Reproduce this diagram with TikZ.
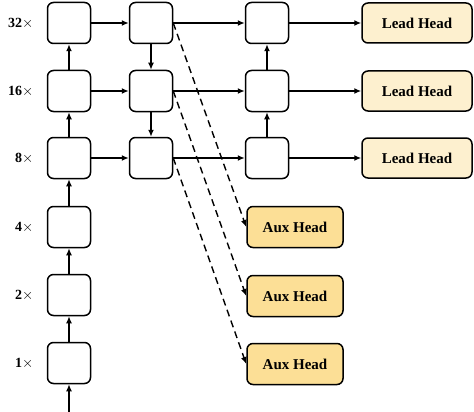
\documentclass[tikz,border=0pt]{standalone}
\usepackage{fontspec}
\setmainfont{Liberation Serif}
\usetikzlibrary{arrows.meta}

\definecolor{leadfill}{HTML}{FDF0CF}
\definecolor{auxfill}{HTML}{FCDF96}

\begin{document}
\begin{tikzpicture}
  [x=1pt,y=-1pt,line width=1.5pt,
   every node/.style={font=\fontsize{15}{17}\selectfont\bfseries},
   blk/.style={draw,rounded corners=6pt,minimum width=43pt,minimum height=41pt},
   lead/.style={blk,fill=leadfill,minimum width=110pt,minimum height=40pt},
   aux/.style={blk,fill=auxfill,minimum width=96pt},
   scl/.style={anchor=east,inner sep=0pt,font=\fontsize{14}{16}\selectfont\bfseries},
   to/.style={-{Latex[length=7pt,width=6pt]}},
   skip/.style={to,dash pattern=on 7pt off 4.5pt,line width=1.4pt}]
  \useasboundingbox (0,0) rectangle (474,412);
  % scale labels
  \node[scl] (t32) at (34,23) {32$\times$};
  \node[scl] (t16) at (34,91) {16$\times$};
  \node[scl] (t8) at (34,158) {8$\times$};
  \node[scl] (t4) at (34,227) {4$\times$};
  \node[scl] (t2) at (34,295) {2$\times$};
  \node[scl] (t1) at (34,363) {1$\times$};
  % backbone
  \node[blk] (a32) at (69,23) {};
  \node[blk] (a16) at (69,91) {};
  \node[blk] (a8) at (69,158) {};
  \node[blk] (a4) at (69,227) {};
  \node[blk] (a2) at (69,295) {};
  \node[blk] (a1) at (69,363) {};
  \coordinate (in) at (69,412);
  % top-down path
  \node[blk] (b32) at (151,23) {};
  \node[blk] (b16) at (151,91) {};
  \node[blk] (b8) at (151,158) {};
  % bottom-up path
  \node[blk] (c32) at (267,23) {};
  \node[blk] (c16) at (267,91) {};
  \node[blk] (c8) at (267,158) {};
  % heads
  \node[lead] (l32) at (417,23) {Lead Head};
  \node[lead] (l16) at (417,91) {Lead Head};
  \node[lead] (l8) at (417,158) {Lead Head};
  \node[aux] (x4) at (295,227) {Aux Head};
  \node[aux] (x2) at (295,296) {Aux Head};
  \node[aux] (x1) at (295,364) {Aux Head};

  \draw[to] (in) -- (a1);
  \draw[to] (a1) -- (a2);
  \draw[to] (a2) -- (a4);
  \draw[to] (a4) -- (a8);
  \draw[to] (a8) -- (a16);
  \draw[to] (a16) -- (a32);
  \draw[to] (a32) -- (b32);
  \draw[to] (a16) -- (b16);
  \draw[to] (a8) -- (b8);
  \draw[to] (b32) -- (b16);
  \draw[to] (b16) -- (b8);
  \draw[to] (b32) -- (c32);
  \draw[to] (b16) -- (c16);
  \draw[to] (b8) -- (c8);
  \draw[to] (c8) -- (c16);
  \draw[to] (c16) -- (c32);
  \draw[to] (c32) -- (l32);
  \draw[to] (c16) -- (l16);
  \draw[to] (c8) -- (l8);
  \draw[skip] (b32.east) -- (x4.west);
  \draw[skip] (b16.east) -- (x2.west);
  \draw[skip] (b8.east) -- (x1.west);
\end{tikzpicture}
\end{document}
